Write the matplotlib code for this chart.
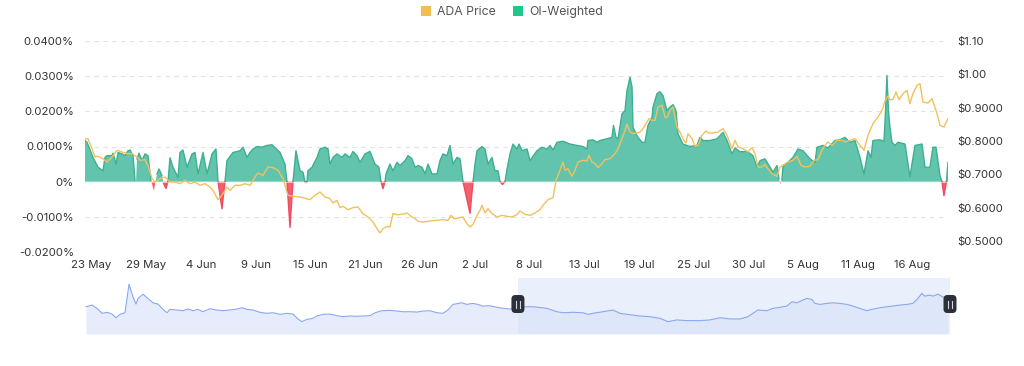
import matplotlib
matplotlib.use("Agg")
import matplotlib.pyplot as plt
import matplotlib.dates as mdates
from matplotlib.patches import Patch, FancyBboxPatch
from matplotlib.lines import Line2D
from matplotlib.transforms import IdentityTransform
import numpy as np
import pandas as pd

plt.rcParams["font.family"] = ["Inter", "DejaVu Sans"]

# chart data (x = days after 23 May 2025 00:00)
start = pd.Timestamp("2025-05-23 00:00")
end_day = 89.34
nav_start_day = -89.54

# OI-weighted funding rate, in %
oi_day = [
    0.0, 0.21, 0.83, 1.35, 1.86, 2.07, 2.28, 2.80, 2.90, 3.21,
    3.42, 3.83, 4.14, 4.45, 4.66, 4.97, 5.18, 5.28, 5.38, 5.59,
    5.90, 6.21, 6.52, 6.83, 7.14, 7.45, 7.66, 7.97, 8.13, 8.39,
    8.59, 8.80, 9.11, 9.63, 9.83, 10.14, 10.56, 11.08, 11.39, 11.70,
    12.22, 12.63, 13.15, 13.56, 13.77, 14.18, 14.49, 14.70, 15.32, 16.05,
    16.36, 16.77, 17.08, 17.39, 17.81, 18.32, 18.84, 19.36, 20.19, 20.70,
    20.91, 21.22, 21.53, 21.74, 21.84, 22.26, 22.57, 22.77, 22.88, 22.98,
    23.08, 23.50, 24.02, 24.33, 24.84, 25.16, 25.36, 25.67, 26.09, 26.60,
    26.92, 27.43, 27.74, 28.16, 28.47, 28.99, 29.50, 30.02, 30.43, 30.64,
    30.85, 31.06, 31.16, 31.57, 31.88, 32.30, 32.61, 33.13, 33.44, 33.85,
    34.16, 34.47, 34.89, 35.20, 35.51, 35.92, 36.44, 36.75, 37.06, 37.47,
    37.78, 38.10, 38.51, 38.82, 39.13, 39.86, 40.17, 40.37, 40.58, 41.10,
    41.41, 41.72, 42.13, 42.44, 42.75, 42.96, 43.22, 43.48, 43.69, 44.00,
    44.31, 44.72, 44.93, 45.24, 45.76, 46.07, 46.79, 47.31, 47.83, 48.14,
    48.45, 48.86, 49.48, 50.21, 50.93, 51.55, 51.97, 52.07, 52.59, 53.00,
    53.31, 54.04, 54.55, 54.71, 54.97, 55.18, 55.59, 55.90, 56.11, 56.42,
    56.63, 56.73, 57.04, 57.25, 57.66, 57.97, 58.28, 58.70, 58.80, 59.21,
    59.52, 59.83, 60.25, 60.56, 60.87, 61.18, 61.39, 61.90, 62.63, 63.35,
    63.66, 63.98, 64.70, 65.42, 66.05, 66.46, 66.98, 67.29, 67.81, 68.53,
    69.15, 69.57, 69.88, 70.39, 70.91, 71.22, 71.64, 71.84, 72.00, 72.15,
    72.26, 72.77, 73.29, 73.81, 74.33, 75.05, 75.57, 75.78, 76.40, 76.92,
    77.64, 78.16, 78.67, 79.19, 79.71, 80.23, 80.64, 81.06, 81.37, 81.57,
    82.30, 82.71, 82.87, 83.02, 83.18, 83.33, 83.54, 83.85, 84.16, 84.89,
    85.40, 85.92, 86.65, 86.96, 87.47, 87.78, 88.10, 88.51, 88.72, 88.92,
    89.18, 89.34,
]
oi_rate = [
    0.0117, 0.0112, 0.0069, 0.0041, 0.0031, 0.0069, 0.0074, 0.0074, 0.0081, 0.0050,
    0.0083, 0.0079, 0.0074, 0.0088, 0.0090, 0.0074, 0.0003, -0.0004, 0.0065, 0.0081,
    0.0060, 0.0079, 0.0074, 0.0003, -0.0026, 0.0022, 0.0036, 0.0017, -0.0005, -0.0019,
    0.0000, 0.0068, 0.0041, 0.0012, 0.0083, 0.0090, 0.0041, 0.0079, 0.0083, 0.0022,
    0.0083, 0.0022, 0.0079, 0.0093, 0.0000, -0.0077, 0.0000, 0.0060, 0.0083, 0.0088,
    0.0098, 0.0069, 0.0083, 0.0093, 0.0100, 0.0098, 0.0103, 0.0105, 0.0083, 0.0050,
    0.0000, -0.0130, 0.0000, 0.0060, 0.0088, 0.0031, 0.0027, 0.0000, -0.0003, 0.0000,
    0.0031, 0.0041, 0.0069, 0.0093, 0.0098, 0.0093, 0.0050, 0.0069, 0.0079, 0.0069,
    0.0079, 0.0069, 0.0086, 0.0074, 0.0055, 0.0079, 0.0086, 0.0050, 0.0041, 0.0000,
    -0.0020, 0.0000, 0.0022, 0.0050, 0.0031, 0.0055, 0.0046, 0.0060, 0.0074, 0.0065,
    0.0041, 0.0046, 0.0041, 0.0022, 0.0050, 0.0022, 0.0022, 0.0060, 0.0079, 0.0074,
    0.0103, 0.0050, 0.0069, 0.0065, 0.0000, -0.0090, 0.0000, 0.0050, 0.0088, 0.0100,
    0.0093, 0.0050, 0.0069, 0.0031, 0.0031, 0.0000, -0.0008, 0.0000, 0.0036, 0.0079,
    0.0107, 0.0093, 0.0107, 0.0088, 0.0093, 0.0060, 0.0088, 0.0098, 0.0093, 0.0103,
    0.0090, 0.0112, 0.0115, 0.0107, 0.0103, 0.0100, 0.0093, 0.0117, 0.0119, 0.0112,
    0.0117, 0.0122, 0.0126, 0.0160, 0.0126, 0.0122, 0.0193, 0.0202, 0.0259, 0.0297,
    0.0269, 0.0155, 0.0136, 0.0126, 0.0112, 0.0112, 0.0160, 0.0183, 0.0212, 0.0250,
    0.0256, 0.0245, 0.0202, 0.0212, 0.0219, 0.0202, 0.0136, 0.0107, 0.0100, 0.0103,
    0.0126, 0.0117, 0.0117, 0.0122, 0.0140, 0.0117, 0.0079, 0.0096, 0.0085, 0.0086,
    0.0074, 0.0041, 0.0060, 0.0065, 0.0041, 0.0027, 0.0046, 0.0008, -0.0007, 0.0005,
    0.0046, 0.0055, 0.0069, 0.0093, 0.0088, 0.0065, 0.0055, 0.0098, 0.0103, 0.0096,
    0.0117, 0.0119, 0.0126, 0.0112, 0.0117, 0.0069, 0.0022, 0.0088, 0.0069, 0.0117,
    0.0119, 0.0115, 0.0200, 0.0302, 0.0200, 0.0155, 0.0112, 0.0103, 0.0112, 0.0107,
    0.0014, 0.0103, 0.0107, 0.0041, 0.0041, 0.0098, 0.0098, 0.0017, 0.0000, -0.0040,
    0.0000, 0.0055,
]

# ADA price, USD
price_day = [
    0.00, 0.31, 0.72, 1.04, 1.35, 1.86, 2.28, 2.80, 3.31, 3.83,
    4.35, 4.87, 5.38, 5.69, 6.21, 6.52, 6.94, 7.25, 7.76, 8.28,
    8.80, 9.32, 9.83, 10.35, 10.87, 11.39, 11.90, 12.42, 12.94, 13.25,
    13.77, 14.18, 14.70, 15.01, 15.53, 16.05, 16.56, 17.08, 17.60, 17.91,
    18.43, 18.94, 19.46, 19.98, 20.50, 21.01, 21.53, 22.26, 23.29, 23.81,
    24.33, 24.84, 25.36, 25.67, 26.09, 26.40, 26.71, 27.23, 27.74, 28.26,
    28.78, 29.30, 29.81, 30.23, 30.54, 30.85, 31.26, 31.57, 31.88, 32.30,
    32.82, 33.33, 33.85, 34.16, 34.47, 34.99, 35.71, 36.44, 37.06, 37.58,
    37.89, 38.20, 38.61, 39.13, 39.54, 39.86, 40.17, 40.58, 40.89, 41.10,
    41.41, 41.72, 42.13, 42.65, 43.17, 43.69, 44.20, 44.72, 45.03, 45.55,
    46.07, 46.58, 47.10, 47.41, 47.93, 48.45, 48.76, 49.17, 49.48, 49.69,
    50.00, 50.41, 50.72, 51.04, 51.55, 51.97, 52.17, 52.48, 52.80, 53.11,
    53.52, 53.83, 54.35, 54.87, 55.18, 55.59, 55.90, 56.11, 56.42, 56.73,
    57.14, 57.45, 57.76, 58.18, 58.39, 58.70, 59.01, 59.32, 59.73, 60.04,
    60.25, 60.56, 60.87, 61.28, 61.59, 61.90, 62.22, 62.42, 62.84, 63.15,
    63.46, 63.87, 64.29, 64.60, 65.01, 65.53, 66.05, 66.46, 66.98, 67.29,
    67.60, 68.12, 68.63, 69.05, 69.36, 69.67, 70.08, 70.39, 70.70, 71.12,
    71.64, 71.95, 72.26, 72.77, 73.29, 73.71, 74.12, 74.53, 75.05, 75.47,
    75.88, 76.29, 76.60, 76.92, 77.33, 77.85, 78.36, 78.67, 79.19, 79.71,
    80.23, 80.64, 81.06, 81.57, 82.09, 82.51, 82.82, 83.13, 83.33, 83.64,
    83.95, 84.27, 84.68, 85.09, 85.40, 85.71, 86.13, 86.44, 86.75, 87.27,
    87.68, 88.20, 88.51, 88.92, 89.34,
]
price = [
    0.807, 0.807, 0.777, 0.752, 0.754, 0.747, 0.737, 0.752, 0.772, 0.767,
    0.762, 0.762, 0.752, 0.742, 0.744, 0.727, 0.687, 0.677, 0.687, 0.692,
    0.677, 0.677, 0.672, 0.682, 0.672, 0.677, 0.667, 0.672, 0.662, 0.652,
    0.624, 0.637, 0.662, 0.652, 0.667, 0.667, 0.672, 0.667, 0.692, 0.704,
    0.697, 0.722, 0.720, 0.712, 0.687, 0.637, 0.634, 0.632, 0.624, 0.637,
    0.647, 0.632, 0.627, 0.614, 0.622, 0.600, 0.604, 0.594, 0.600, 0.602,
    0.582, 0.572, 0.557, 0.537, 0.524, 0.537, 0.544, 0.542, 0.582, 0.579,
    0.580, 0.584, 0.572, 0.567, 0.559, 0.557, 0.560, 0.562, 0.564, 0.562,
    0.577, 0.567, 0.569, 0.572, 0.552, 0.542, 0.550, 0.577, 0.592, 0.607,
    0.584, 0.597, 0.582, 0.572, 0.577, 0.574, 0.572, 0.579, 0.590, 0.580,
    0.577, 0.584, 0.594, 0.607, 0.624, 0.630, 0.682, 0.712, 0.737, 0.712,
    0.717, 0.694, 0.712, 0.737, 0.742, 0.740, 0.757, 0.737, 0.732, 0.720,
    0.732, 0.744, 0.747, 0.762, 0.777, 0.807, 0.832, 0.850, 0.827, 0.822,
    0.824, 0.827, 0.837, 0.857, 0.867, 0.862, 0.862, 0.902, 0.907, 0.872,
    0.870, 0.892, 0.902, 0.842, 0.827, 0.807, 0.794, 0.822, 0.807, 0.784,
    0.787, 0.817, 0.830, 0.824, 0.824, 0.827, 0.837, 0.817, 0.777, 0.802,
    0.782, 0.777, 0.767, 0.780, 0.762, 0.722, 0.722, 0.730, 0.717, 0.702,
    0.694, 0.722, 0.727, 0.737, 0.742, 0.754, 0.727, 0.722, 0.724, 0.742,
    0.744, 0.772, 0.787, 0.797, 0.787, 0.802, 0.802, 0.797, 0.802, 0.807,
    0.787, 0.772, 0.817, 0.852, 0.872, 0.892, 0.920, 0.935, 0.924, 0.924,
    0.947, 0.924, 0.942, 0.952, 0.912, 0.942, 0.967, 0.972, 0.917, 0.914,
    0.927, 0.882, 0.847, 0.842, 0.867,
]

# longer price history shown in the zoom slider
nav_day = [
    -89.33, -88.09, -87.06, -86.02, -84.99, -83.95, -83.13, -82.30, -81.27, -80.44,
    -79.61, -78.99, -78.58, -77.54, -76.51, -75.48, -74.44, -73.41, -72.58, -71.96,
    -70.51, -69.27, -68.24, -67.20, -66.17, -65.14, -63.69, -62.24, -61.00, -59.55,
    -58.11, -57.07, -56.04, -54.80, -53.35, -51.90, -50.66, -49.21, -47.77, -46.53,
    -45.49, -44.67, -43.63, -42.60, -41.56, -40.32, -38.88, -37.43, -36.19, -34.74,
    -33.29, -32.05, -30.60, -29.57, -28.12, -26.47, -25.02, -23.78, -22.33, -20.89,
    -19.64, -18.20, -16.75, -15.51, -14.47, -13.44, -11.58, -10.55, -9.31, -8.27,
    -7.24, -5.79, -4.34, -3.10, -1.65, 0.00, 3.10, 6.00, 8.06, 9.31,
    11.37, 13.44, 14.47, 15.51, 17.58, 19.64, 21.09, 23.16, 25.23, 27.30,
    29.36, 31.02, 32.88, 34.95, 37.63, 39.70, 41.77, 43.84, 45.91, 47.56,
    48.59, 49.63, 51.49, 52.73, 54.18, 55.62, 56.66, 57.69, 58.93, 59.76,
    60.79, 61.41, 62.45, 63.90, 65.14, 66.58, 68.03, 69.27, 70.72, 72.17,
    73.20, 74.86, 76.30, 77.54, 78.99, 80.44, 81.68, 82.71, 83.54, 84.16,
    85.19, 85.81, 86.85, 87.88, 88.92,
]
nav_price = [
    0.758, 0.785, 0.733, 0.655, 0.671, 0.644, 0.586, 0.639, 0.664, 1.112,
    0.914, 0.800, 0.889, 0.956, 0.889, 0.820, 0.800, 0.717, 0.664, 0.717,
    0.707, 0.696, 0.722, 0.696, 0.717, 0.680, 0.727, 0.707, 0.696, 0.707,
    0.722, 0.742, 0.717, 0.707, 0.671, 0.655, 0.664, 0.639, 0.655, 0.644,
    0.566, 0.524, 0.561, 0.571, 0.613, 0.639, 0.644, 0.618, 0.602, 0.613,
    0.608, 0.613, 0.618, 0.664, 0.696, 0.702, 0.691, 0.680, 0.680, 0.675,
    0.691, 0.696, 0.664, 0.655, 0.707, 0.795, 0.820, 0.795, 0.811, 0.795,
    0.769, 0.774, 0.749, 0.733, 0.722, 0.758, 0.758, 0.733, 0.680, 0.664,
    0.671, 0.664, 0.639, 0.655, 0.680, 0.707, 0.655, 0.633, 0.613, 0.602,
    0.577, 0.524, 0.551, 0.540, 0.540, 0.551, 0.586, 0.566, 0.566, 0.602,
    0.655, 0.707, 0.696, 0.733, 0.749, 0.769, 0.836, 0.820, 0.863, 0.889,
    0.873, 0.811, 0.795, 0.811, 0.820, 0.811, 0.795, 0.769, 0.733, 0.696,
    0.717, 0.742, 0.758, 0.769, 0.785, 0.795, 0.811, 0.889, 0.967, 0.925,
    0.941, 0.925, 0.956, 0.914, 0.889,
]

x_labels = ["23 May", "29 May", "4 Jun", "9 Jun", "15 Jun", "21 Jun", "26 Jun", "2 Jul",
            "8 Jul", "13 Jul", "19 Jul", "25 Jul", "30 Jul", "5 Aug", "11 Aug", "16 Aug"]
rate_ticks = [0.04, 0.03, 0.02, 0.01, 0.0, -0.01, -0.02]
rate_labels = ["0.0400%", "0.0300%", "0.0200%", "0.0100%", "0%", "-0.0100%", "-0.0200%"]
price_ticks = [1.10, 1.00, 0.90, 0.80, 0.70, 0.60, 0.50]
price_labels = ["$1.10", "$1.00", "$0.9000", "$0.8000", "$0.7000", "$0.6000", "$0.5000"]


def to_num(days):
    t = start + pd.to_timedelta(np.atleast_1d(np.asarray(days, dtype=float)), unit="D")
    return mdates.date2num(t.to_numpy())


W, H = 1024, 366
fig = plt.figure(figsize=(W / 100, H / 100), dpi=100)

ax = fig.add_axes([85 / W, 1 - 252 / H, (948 - 85) / W, (252 - 41) / H])
ax.set_ylim(-0.02, 0.04)
x0, x1 = to_num([0, end_day])
ax.set_xlim(x0, x1)

for t in rate_ticks:
    if t != 0:
        ax.axhline(t, color="#e3e3e3", lw=0.8, ls=(0, (4, 4)), zorder=0)

xo = to_num(oi_day)
yo = np.array(oi_rate)
ax.fill_between(xo, 0, yo, where=yo >= 0, interpolate=True, color="#63c4ae", lw=0, zorder=2)
ax.fill_between(xo, 0, yo, where=yo <= 0, interpolate=True, color="#f4606f", lw=0, zorder=2)
ax.plot(xo, np.where(yo >= 0, yo, np.nan), color="#3db091", lw=1.0, zorder=3)
ax.plot(xo, np.where(yo <= 0, yo, np.nan), color="#f04a5e", lw=1.0, zorder=3)
ax.axhline(0, color="#eef7f4", lw=0.8, alpha=0.6, zorder=4)

ticks = pd.date_range("2025-05-23 16:00", periods=len(x_labels), freq="136h")
ax.set_xticks(mdates.date2num(ticks.to_numpy()))
ax.set_xticklabels(x_labels)
ax.set_yticks(rate_ticks)
ax.set_yticklabels(rate_labels)
ax.tick_params(axis="x", length=0, pad=6, labelsize=8.2, labelcolor="#333333")
ax.tick_params(axis="y", length=0, pad=8, labelsize=8.2, labelcolor="#333333")
for s in ax.spines.values():
    s.set_visible(False)

ax2 = ax.twinx()
ax2.set_xlim(x0, x1)
ax2.set_ylim(0.467, 1.10)
ax2.plot(to_num(price_day), price, color="#f1c15c", lw=1.0, zorder=5)
ax2.set_yticks(price_ticks)
ax2.set_yticklabels(price_labels)
ax2.tick_params(axis="y", length=0, pad=7, labelsize=8.2, labelcolor="#333333")
for s in ax2.spines.values():
    s.set_visible(False)

fig.legend(handles=[Patch(facecolor="#f0be52", label="ADA Price"),
                    Patch(facecolor="#1fc88a", label="OI-Weighted")],
           loc="center", bbox_to_anchor=(0.5, 1 - 12 / H), ncol=2, frameon=False,
           handlelength=0.85, handleheight=0.85, handletextpad=0.5, columnspacing=1.4,
           fontsize=8.8, labelcolor="#555555")

# zoom slider under the chart
nav = fig.add_axes([85 / W, 1 - 334 / H, (950 - 85) / W, (334 - 278) / H])
n0, n1 = to_num([nav_start_day, end_day + 0.02])
nav.set_xlim(n0, n1)
nav.set_ylim(0.33, 1.21)
xn = to_num(nav_day)
nav.fill_between(xn, 0.33, nav_price, color="#e6ecfb", lw=0)
nav.axvspan(x0, n1, color="#d7e1fa", alpha=0.5, lw=0)
nav.plot(xn, nav_price, color="#8aa8ef", lw=0.8)
nav.axis("off")

for d in (x0, n1):
    px = nav.transData.transform((d, 0.5))[0]
    cy = H - 304
    fig.add_artist(FancyBboxPatch((px - 6.5, cy - 9), 13, 18,
                                  boxstyle="round,pad=0,rounding_size=4",
                                  transform=IdentityTransform(), fc="#2c303b",
                                  ec="none", zorder=10))
    for dx in (-1.6, 1.6):
        fig.add_artist(Line2D([px + dx, px + dx], [cy - 3.5, cy + 3.5],
                              transform=IdentityTransform(), color="#d0d3da",
                              lw=0.8, zorder=11))

fig.savefig("out.png", dpi=100)
